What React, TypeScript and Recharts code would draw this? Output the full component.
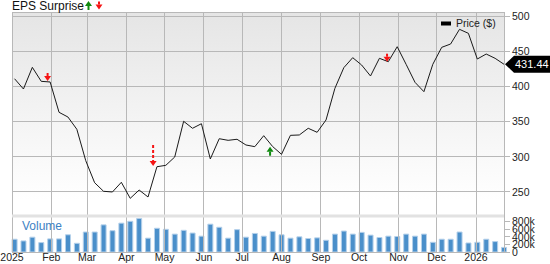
import { ComposedChart, BarChart, Line, Bar, XAxis, YAxis, ReferenceDot, ReferenceLine } from 'recharts'

// weekly closes
const weekDates = [
  '2025-01-03', '2025-01-10', '2025-01-17', '2025-01-24', '2025-01-31',
  '2025-02-07', '2025-02-14', '2025-02-21', '2025-02-28',
  '2025-03-07', '2025-03-14', '2025-03-21', '2025-03-28',
  '2025-04-04', '2025-04-11', '2025-04-18', '2025-04-25',
  '2025-05-02', '2025-05-09', '2025-05-16', '2025-05-23', '2025-05-30',
  '2025-06-06', '2025-06-13', '2025-06-20', '2025-06-27',
  '2025-07-04', '2025-07-11', '2025-07-18', '2025-07-25',
  '2025-08-01', '2025-08-08', '2025-08-15', '2025-08-22', '2025-08-29',
  '2025-09-05', '2025-09-12', '2025-09-19', '2025-09-26',
  '2025-10-03', '2025-10-10', '2025-10-17', '2025-10-24', '2025-10-31',
  '2025-11-07', '2025-11-14', '2025-11-21', '2025-11-28',
  '2025-12-05', '2025-12-12', '2025-12-19', '2025-12-26',
  '2026-01-02', '2026-01-09', '2026-01-16', '2026-01-23',
]

const closePrices = [
  410.9, 396.3, 427.1, 407.2, 406.3, 363.2, 356.5, 339.1, 294.5, 263.2,
  251.0, 250.0, 263.8, 241.0, 252.8, 242.9, 285.9, 287.9, 299.7, 350.4,
  340.5, 347.0, 296.9, 325.7, 323.4, 324.9, 316.8, 314.4, 330.0, 314.6,
  303.5, 330.5, 331.0, 340.5, 334.8, 352.3, 397.3, 426.6, 440.8, 430.4,
  414.8, 439.9, 435.1, 456.4, 431.4, 405.8, 392.5, 431.4, 455.5, 460.2,
  481.1, 475.4, 438.9, 446.0, 439.9, 431.44,
]

const volumes = [
  337000, 292000, 391000, 248000, 346000, 346000, 454000, 230000, 527000, 527000,
  716000, 562000, 761000, 810000, 886000, 365000, 626000, 599000, 472000, 572000,
  500000, 418000, 734000, 653000, 365000, 590000, 391000, 490000, 418000, 545000,
  454000, 365000, 400000, 356000, 373000, 310000, 472000, 553000, 472000, 518000,
  445000, 383000, 418000, 409000, 472000, 418000, 472000, 256000, 337000, 337000,
  527000, 238000, 256000, 337000, 275000, 121000,
]

const monthTickDates = [
  '2025-01-01', '2025-02-01', '2025-03-01', '2025-04-01', '2025-05-01', '2025-06-01', '2025-07-01',
  '2025-08-01', '2025-09-01', '2025-10-01', '2025-11-01', '2025-12-01', '2026-01-01',
]
const monthTickLabels = ['2025', 'Feb', 'Mar', 'Apr', 'May', 'Jun', 'Jul', 'Aug', 'Sep', 'Oct', 'Nov', 'Dec', '2026']

const priceTicks = [250, 300, 350, 400, 450, 500]
const volumeTicks = [0, 200000, 400000, 600000, 800000]

// earnings surprise markers
const epsDates = ['2025-01-29', '2025-04-22', '2025-07-23', '2025-10-23']
const epsPrices = [407.7, 286.9, 314.3, 435.1]
const epsDirections = ['down', 'down', 'up', 'down']

const GRID = '#b8b8b8'
const RED = '#f51414'
const GREEN = '#0f8a0f'
const TEXT = '#222'
const FONT = '"Liberation Sans", Arial, sans-serif'
const STEMS = [3, 16, 4, 3]

const toT = (d: string) => Date.parse(d)
const X_DOMAIN = [toT('2025-01-01'), toT('2026-01-23')]
const PRICE_DOMAIN = [215.9, 505.7]
const VOL_DOMAIN = [0, 950000]
const monthTicks = monthTickDates.map(toT)

const data = weekDates.map((d, i) => ({ t: toT(d), price: closePrices[i], vol: volumes[i] }))

const monthLabel = (v: number) => {
  const i = monthTicks.indexOf(v)
  return i >= 0 ? monthTickLabels[i] : ''
}
const volLabel = (v: number) => (v === 0 ? '0' : `${v / 1000}k`)

// right-side tick: short grey tick mark plus label
function RightTick(props: any) {
  const { x, y, payload, size, format } = props
  return (
    <g>
      <line x1={x - 8} x2={x - 2} y1={y} y2={y} stroke={GRID} shapeRendering="crispEdges" />
      <text x={x} y={y} dy="0.355em" fontSize={size} fill={TEXT} fontFamily={FONT}>
        {format ? format(payload.value) : payload.value}
      </text>
    </g>
  )
}

function Arrow({ cx, cy, dir, stem }: { cx: number; cy: number; dir: string; stem: number }) {
  if (dir === 'up') {
    return (
      <g>
        <polygon points={`${cx - 3.5},${cy + 5} ${cx + 3.5},${cy + 5} ${cx},${cy}`} fill={GREEN} />
        <rect x={cx - 1} y={cy + 5} width={2} height={stem} fill={GREEN} />
      </g>
    )
  }
  return (
    <g>
      <line x1={cx} x2={cx} y1={cy - 5 - stem} y2={cy - 5} stroke={RED} strokeWidth={2} strokeDasharray="3 2" />
      <polygon points={`${cx - 3.5},${cy - 5} ${cx + 3.5},${cy - 5} ${cx},${cy}`} fill={RED} />
    </g>
  )
}

function PriceTag(props: any) {
  const { cx, cy } = props
  const last = closePrices[closePrices.length - 1]
  return (
    <g>
      <polygon
        points={`${cx + 1},${cy} ${cx + 10},${cy - 8.5} 550,${cy - 8.5} 550,${cy + 8.5} ${cx + 10},${cy + 8.5}`}
        fill="#000"
      />
      <text x={cx + 11} y={cy + 4} fill="#fff" fontSize={11} fontFamily={FONT}>
        {last.toFixed(2)}
      </text>
    </g>
  )
}

const abs = (left: number, top: number): React.CSSProperties => ({ position: 'absolute', left, top })
const gridLine = { stroke: GRID, strokeWidth: 1, shapeRendering: 'crispEdges' as const }

export default function App() {
  const lastPoint = data[data.length - 1]
  return (
    <div style={{ position: 'absolute', left: 0, top: 0, width: 550, height: 264, fontFamily: FONT }}>
      {/* price panel background */}
      <div style={{ ...abs(12, 12), width: 492, height: 204, background: 'linear-gradient(#e5e5e5, #ffffff 92%)' }} />

      <div style={abs(0, 0)}>
        <ComposedChart width={550} height={216} data={data} margin={{ top: 12, right: 0, bottom: 0, left: 12 }}>
          <XAxis dataKey="t" type="number" domain={X_DOMAIN} ticks={monthTicks} hide />
          <YAxis
            orientation="right"
            width={46}
            domain={PRICE_DOMAIN}
            ticks={priceTicks}
            interval={0}
            tickSize={6}
            tickMargin={2}
            tickLine={false}
            axisLine={false}
            tick={<RightTick size={10.5} />}
          />
          {monthTicks.map((t) => (
            <ReferenceLine key={`m${t}`} x={t} {...gridLine} />
          ))}
          <ReferenceLine x={X_DOMAIN[1]} {...gridLine} />
          {priceTicks.map((p) => (
            <ReferenceLine key={`p${p}`} y={p} {...gridLine} />
          ))}
          <ReferenceLine y={PRICE_DOMAIN[1]} {...gridLine} />
          <Line type="linear" dataKey="price" stroke="#1a1a1a" strokeWidth={1} dot={false} isAnimationActive={false} />
          {epsDates.map((d, i) => (
            <ReferenceDot
              key={d}
              x={toT(d)}
              y={epsPrices[i]}
              shape={(p: any) => <Arrow cx={p.cx} cy={p.cy} dir={epsDirections[i]} stem={STEMS[i]} />}
            />
          ))}
          <ReferenceDot x={lastPoint.t} y={lastPoint.price} shape={(p: any) => <PriceTag {...p} />} />
        </ComposedChart>
      </div>

      <div style={abs(0, 212)}>
        <BarChart width={550} height={52} data={data} margin={{ top: 4, right: 0, bottom: 0, left: 12 }}>
          <XAxis
            dataKey="t"
            type="number"
            domain={X_DOMAIN}
            ticks={monthTicks}
            interval={0}
            tickFormatter={monthLabel}
            height={12}
            tickSize={0}
            tickMargin={2}
            tickLine={false}
            axisLine={false}
            tick={{ fontSize: 10.5, fill: TEXT }}
          />
          <YAxis
            orientation="right"
            width={46}
            domain={VOL_DOMAIN}
            ticks={volumeTicks}
            interval={0}
            tickSize={5}
            tickMargin={3}
            tickLine={false}
            axisLine={false}
            tick={<RightTick size={10.5} format={volLabel} />}
          />
          {monthTicks.map((t) => (
            <ReferenceLine key={`v${t}`} x={t} {...gridLine} />
          ))}
          <ReferenceLine x={X_DOMAIN[1]} {...gridLine} />
          <ReferenceLine y={0} {...gridLine} />
          <ReferenceLine y={VOL_DOMAIN[1]} stroke="#e2e2e2" strokeWidth={3} />
          <Bar dataKey="vol" fill="#4a8fca" stroke="#b4d0ea" strokeWidth={1} barSize={5} isAnimationActive={false} />
        </BarChart>
      </div>

      <div style={{ ...abs(12, -1), fontSize: 12, color: '#111', whiteSpace: 'nowrap' }}>EPS Surprise</div>
      <svg width={24} height={12} style={abs(84, 0)}>
        <Arrow cx={4.5} cy={1} dir="up" stem={4} />
        <Arrow cx={15} cy={9.5} dir="down" stem={3} />
      </svg>
      <svg width={12} height={8} style={abs(441, 20)}>
        <rect x={0} y={1.5} width={10} height={4} fill="#000" />
      </svg>
      <div style={{ ...abs(456, 17), fontSize: 10.5, color: TEXT, whiteSpace: 'nowrap' }}>Price ($)</div>
      <div style={{ ...abs(22, 219), fontSize: 12, color: '#3d82c4' }}>Volume</div>
    </div>
  )
}
